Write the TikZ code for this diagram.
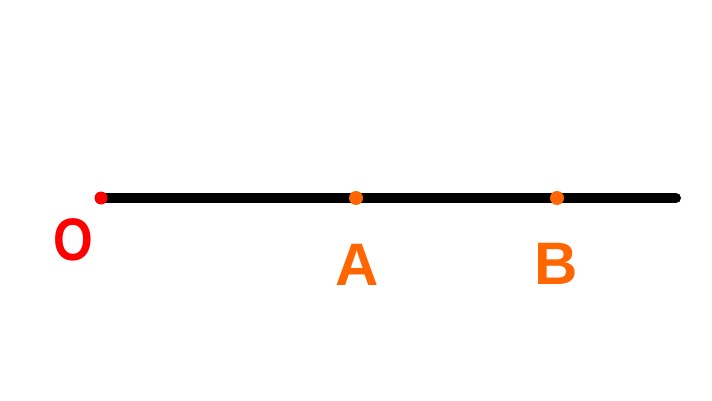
\documentclass[tikz,border=0pt]{standalone}
\usepackage{fontspec}
\setmainfont{Liberation Sans}
\usepackage{xcolor}
\usetikzlibrary{positioning}
\definecolor{ptred}{HTML}{FF0000}
\definecolor{ptorange}{HTML}{FF6600}

\begin{document}
\begin{tikzpicture}[x=1pt, y=-1pt]
      \useasboundingbox (0,0) rectangle (712,401);

      % the axis
      \coordinate (E) at (676,198);
      \coordinate (S) at (101,198);
      \draw[line width = 10pt, line cap = round] (S) -- (E);

      % points on the axis
      \begin{scope}[every node/.style={circle, inner sep = 0pt, minimum size = 14pt}]
          \node[fill = ptred, minimum size = 13pt] (O) at (101,198) {};
          \node[fill = ptorange] (A) at (356,198) {};
          \node[fill = ptorange] (B) at (557,198) {};
      \end{scope}

      % labels
      \begin{scope}[every node/.style={font = \fontsize{60}{60}\selectfont\bfseries, inner sep = 0pt}]
          \node[text = ptred, xscale = 0.85] (lO) at (73,240) {O};
          \node[text = ptorange] (lA) at (357,265) {A};
          \node[text = ptorange] (lB) at (556,264) {B};
      \end{scope}
\end{tikzpicture}
\end{document}
